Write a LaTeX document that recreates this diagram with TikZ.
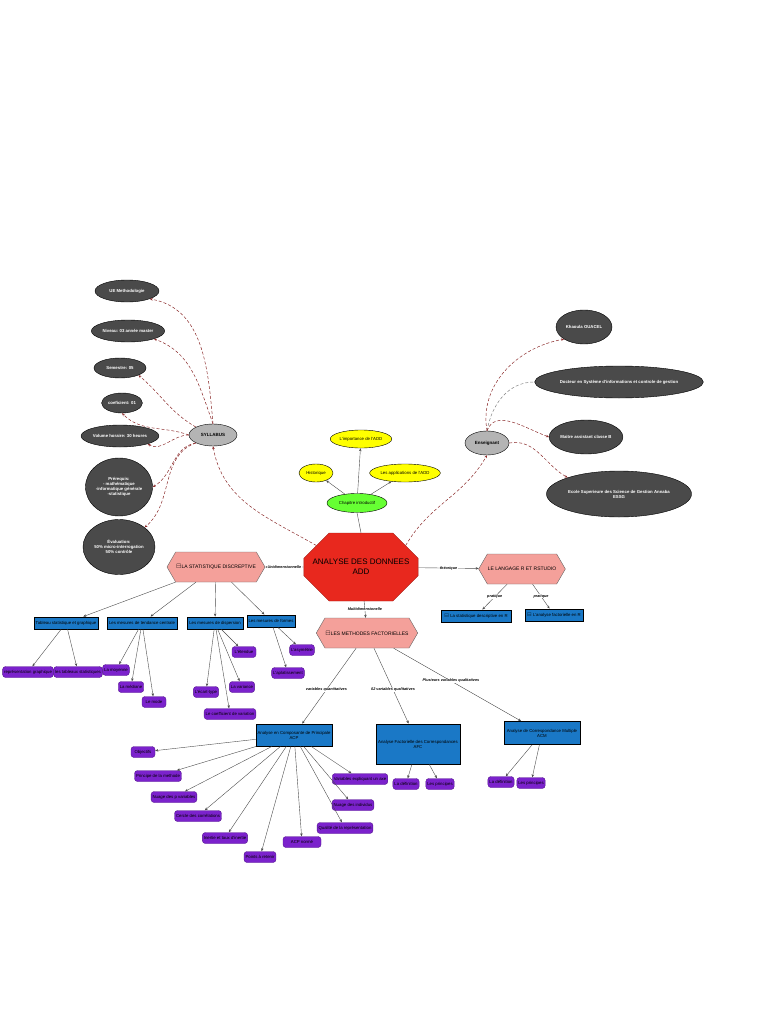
\documentclass[tikz,border=0pt]{standalone}
\usepackage{amssymb}
\usepackage{fontspec}
\setmainfont{Liberation Sans}
\usetikzlibrary{shapes.geometric,shapes.misc,shapes.symbols,arrows.meta}
\definecolor{darkg}{HTML}{4A4A4A}
\definecolor{lightg}{HTML}{B4B4B4}
\definecolor{addred}{HTML}{E8281E}
\definecolor{salmon}{HTML}{F4A09A}
\definecolor{boxblue}{HTML}{1A78C6}
\definecolor{purp}{HTML}{7B22CC}
\definecolor{yel}{HTML}{FFFF00}
\definecolor{grn}{HTML}{66FF33}
\definecolor{wine}{HTML}{8B2A2A}
\begin{document}
\begin{tikzpicture}[x=1pt,y=-1pt,
  every node/.style={font=\fontsize{4.3}{5}\selectfont, align=center, inner sep=0.5pt},
  darkel/.style={ellipse, fill=darkg, draw=black, text=white, font=\fontsize{4.3}{5}\selectfont\bfseries},
  greyel/.style={ellipse, fill=lightg, draw=black, font=\fontsize{4.5}{5}\selectfont\bfseries},
  yelel/.style={ellipse, fill=yel, draw=black, minimum height=18},
  grnel/.style={ellipse, fill=grn, draw=black, minimum height=19},
  hexa/.style={signal, signal to=west and east, fill=salmon, draw=black!60, signal pointer angle=120, font=\fontsize{5}{6}\selectfont},
  bluebox/.style={rectangle, fill=boxblue, draw=black, line width=0.9pt, minimum height=12},
  purpbox/.style={rectangle, rounded corners=3pt, fill=purp, draw=purp!70!black, minimum height=11, minimum width=24, inner xsep=1.5pt},
  curv/.style={wine, densely dashed, line width=0.5pt, -{Stealth[length=3pt,width=2.5pt]}},
  gline/.style={black!70, line width=0.4pt, -{Stealth[length=3pt,width=2.5pt]}},
  lab/.style={font=\fontsize{3.8}{4.5}\selectfont\itshape\bfseries, text=black, fill=white, inner sep=0.3pt}]
\useasboundingbox (0,0) rectangle (768,1024);
% syllabus
\node[greyel, minimum width=48, minimum height=22] (syl) at (213,435) {SYLLABUS};
\node[darkel, minimum width=64, minimum height=22] (ue) at (127,291) {UE Methodologie};
\node[darkel, minimum width=72, minimum height=22] (niv) at (128,331) {Niveau: 03 année master};
\node[darkel, minimum width=52, minimum height=20] (sem) at (120,368) {Semestre: 05};
\node[darkel, minimum width=40, minimum height=20] (coef) at (122,403) {coeficient: 01};
\node[darkel, minimum width=64, minimum height=22] (vol) at (120,436) {Volume horaire: 30 heures};
\node[darkel, minimum width=62, minimum height=58] (pre) at (119,487) {Prérequis:\\- mathématique\\-informatique générale\\-statistique};
\node[darkel, minimum width=72, minimum height=55] (eva) at (119,547) {Évaluation:\\50\% micro-interrogation\\50\% contrôle};
% enseignant
\node[greyel, minimum width=44, minimum height=24] (ens) at (487,443) {Enseignant};
\node[darkel, minimum width=56, minimum height=34] (kh) at (584,327) {Khaoula OUACEL};
\node[darkel, minimum width=150, minimum height=32] (doc) at (619,382) {Docteur en Système d'informations et controle de gestion};
\node[darkel, minimum width=64, minimum height=34] (mai) at (586,437) {Maitre assistant classe B};
\node[darkel, minimum width=138, minimum height=46] (eco) at (619,494) {Ecole Superieure des Science de Gestion Annaba\\ESSG};
% chapitre
\node[yelel, minimum width=52] (imp) at (361,439) {L'importance de l'ADD};
\node[yelel, minimum width=34] (his) at (316,473) {Historique};
\node[yelel, minimum width=58] (app) at (405,473) {Les applications de l'ADD};
\node[grnel, minimum width=60] (cha) at (357,503) {Chapitre introductif};
% center
\node[chamfered rectangle, chamfered rectangle xsep=20pt, chamfered rectangle ysep=17pt, fill=addred, draw=addred!70!black, minimum width=112, minimum height=68, font=\fontsize{8}{10}\selectfont] (add) at (361,567) {ANALYSE DES DONNEES\\ADD};
\node[hexa, minimum width=96, minimum height=30] (sd) at (216,567) {$\boxminus$LA STATISTIQUE DISCREPTIVE};
\node[hexa, minimum width=82, minimum height=30] (lr) at (522,569) {LE LANGAGE R ET RSTUDIO};
\node[hexa, minimum width=100, minimum height=30] (mf) at (367,633) {$\boxminus$LES METHODES FACTORIELLES};
% R
\node[bluebox, minimum width=70] (r1) at (476,616) {$\boxminus$ La statistique descriptive en R};
\node[bluebox, minimum width=58] (r2) at (554,615) {$\boxminus$ L'analyse factorielle en R};
% SD children
\node[bluebox, minimum width=64] (tab) at (66,623) {Tableau statistique et graphique};
\node[bluebox, minimum width=70] (ten) at (142,623) {Les mesures de tendance centrale};
\node[bluebox, minimum width=56] (dis) at (215,623) {Les mesures de dispersion};
\node[bluebox, minimum width=48] (for) at (271,621) {Les mesures de formes};
\node[purpbox, minimum width=48] (rg) at (28,672) {représentation graphique};
\node[purpbox, minimum width=44] (lt) at (78,672) {les tableaux statistiques};
\node[purpbox] (moy) at (116,670) {La moyenne};
\node[purpbox] (med) at (131,687) {La médiane};
\node[purpbox] (mod) at (154,702) {Le mode};
\node[purpbox] (ete) at (244,652) {L'étendue};
\node[purpbox] (var) at (242,687) {La variance};
\node[purpbox] (ect) at (206,692) {L'écart-type};
\node[purpbox, minimum width=48] (cv) at (230,714) {Le coefficient de variation};
\node[purpbox] (asy) at (302,650) {L'asymétrie};
\node[purpbox, minimum width=30] (apl) at (288,673) {L'aplatissement};
% MF children
\node[bluebox, minimum width=76, minimum height=22] (acp) at (294,735) {Analyse en Composante de Principale\\ACP};
\node[bluebox, minimum width=84, minimum height=40] (afc) at (418,744) {Analyse Factorielle des Correspondances\\AFC};
\node[bluebox, minimum width=76, minimum height=23] (acm) at (542,733) {Analyse de Correspondance Multiple\\ACM};
\node[purpbox] (obj) at (143,752) {Objectifs};
\node[purpbox, minimum width=42] (pri) at (158,776) {Principe de la methode};
\node[purpbox, minimum width=40] (nuv) at (174,797) {Nuage des p variables};
\node[purpbox, minimum width=42] (cer) at (198,816) {Cercle des corrélations};
\node[purpbox, minimum width=40] (ine) at (225,838) {Inertie et taux d'inertie};
\node[purpbox, minimum width=28] (pts) at (260,857) {Points à retenir};
\node[purpbox, minimum width=38] (nor) at (302,842) {ACP normé};
\node[purpbox, minimum width=50] (qua) at (345,828) {Qualité de la représentation};
\node[purpbox, minimum width=40] (nui) at (353,805) {Nuage des individus};
\node[purpbox, minimum width=50] (vex) at (360,779) {Variables expliquant un axe};
\node[purpbox] (d1) at (406,784) {La définition};
\node[purpbox] (p1) at (440,784) {Les principes};
\node[purpbox] (d2) at (501,782) {La définition};
\node[purpbox] (p2) at (531,783) {Les principes};
% curved connectors
\draw[curv] (syl.north) to[out=95,in=-10] (ue.south east);
\draw[curv] (syl.north) to[out=110,in=-20] (niv.south east);
\draw[curv] (syl.north west) to[out=150,in=-40] (sem.south east);
\draw[curv] (syl.west) to[out=160,in=-45] (coef.south);
\draw[curv] (syl.west) to[out=180,in=-30] (vol.south east);
\draw[curv] (syl.south west) to[out=190,in=30] (pre.east);
\draw[curv] (syl.south west) to[out=200,in=40] (eva.north east);
\draw[curv] (add.north west) to[out=150,in=-80] (syl.south);
\draw[curv] (add.north east) to[out=60,in=-120] (ens.south);
\draw[curv] (ens.north) to[out=100,in=190] (kh.south west);
\draw[densely dashed, black!50, line width=0.5pt] (ens.north) to[out=80,in=180] (doc.west);
\draw[curv] (ens.north) to[out=70,in=160] (mai.west);
\draw[curv] (ens.east) to[out=10,in=150] (eco.north west);
% chapitre
\draw[black!70, line width=0.4pt] (add.north) -- (cha.south);
\draw[gline] (cha) -- (imp);
\draw[gline] (cha) -- (his);
\draw[gline] (cha) -- (app);
% main branches
\draw[gline] (add) -- node[lab]{Unidimensionnelle} (sd);
\draw[gline] (add) -- node[lab]{théorique} (lr);
\draw[gline] (add) -- node[lab]{Multidimensionelle} (mf);
\draw[gline] (lr) -- node[lab]{pratique} (r1);
\draw[gline] (lr) -- node[lab]{pratique} (r2);
\foreach \t in {tab,ten,dis,for} \draw[gline] (sd) -- (\t);
\draw[gline] (tab) -- (rg); \draw[gline] (tab) -- (lt);
\foreach \t in {moy,med,mod} \draw[gline] (ten) -- (\t);
\foreach \t in {ete,var,ect,cv} \draw[gline] (dis) -- (\t);
\foreach \t in {asy,apl} \draw[gline] (for) -- (\t);
\draw[gline] (mf) -- node[lab, pos=0.55]{variables quantitatives} (acp);
\draw[gline] (mf) -- node[lab, pos=0.55]{02 variables qualitatives} (afc);
\draw[gline] (mf) -- node[lab, pos=0.45]{Plusieurs variables qualitatives} (acm);
\foreach \t in {obj,pri,nuv,cer,ine,pts,nor,qua,nui,vex} \draw[gline] (acp) -- (\t);
\draw[gline] (afc) -- (d1); \draw[gline] (afc) -- (p1);
\draw[gline] (acm) -- (d2); \draw[gline] (acm) -- (p2);
\end{tikzpicture}
\end{document}
